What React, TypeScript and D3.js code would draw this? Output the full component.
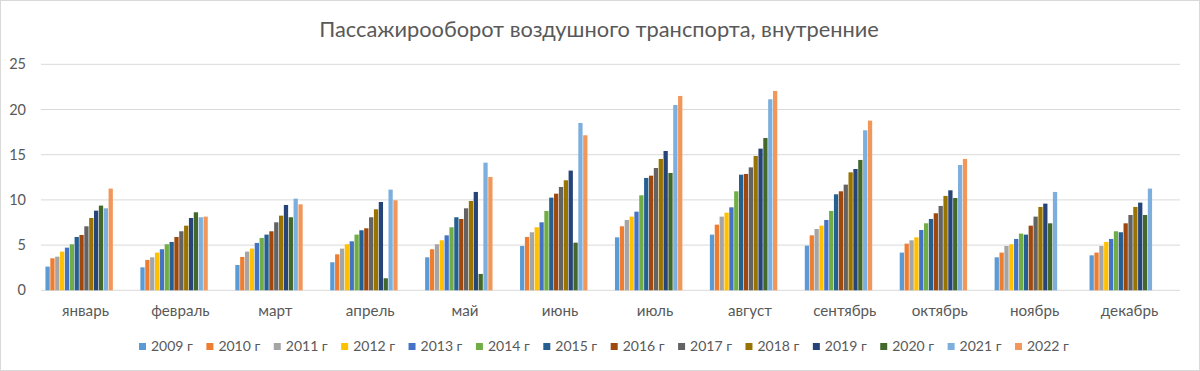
import React from "react";
import * as d3 from "d3";

const months = ["январь", "февраль", "март", "апрель", "май", "июнь", "июль", "август", "сентябрь", "октябрь", "ноябрь", "декабрь"];
const years = ["2009 г", "2010 г", "2011 г", "2012 г", "2013 г", "2014 г", "2015 г", "2016 г", "2017 г", "2018 г", "2019 г", "2020 г", "2021 г", "2022 г"];
const colours = ["#5B9BD5", "#ED7D31", "#A5A5A5", "#FFC000", "#4472C4", "#70AD47", "#255E91", "#9E480E", "#636363", "#997300", "#264478", "#43682B", "#7CAFDD", "#F1975A"];
const yTicks = [0, 5, 10, 15, 20, 25];

// values per month, one entry per year 2009..2022 (null = no data)
const jan = [2.62, 3.54, 3.72, 4.28, 4.72, 5.09, 5.9, 6.12, 7.08, 8.0, 8.81, 9.37, 9.07, 11.25];
const feb = [2.54, 3.36, 3.65, 4.17, 4.54, 5.09, 5.35, 5.9, 6.53, 7.15, 8.0, 8.63, 8.08, 8.15];
const mar = [2.8, 3.69, 4.28, 4.61, 5.24, 5.79, 6.16, 6.53, 7.52, 8.26, 9.44, 8.08, 10.14, 9.51];
const apr = [3.1, 3.98, 4.61, 5.09, 5.42, 6.16, 6.64, 6.86, 8.08, 8.96, 9.77, 1.33, 11.14, 9.96];
const may = [3.65, 4.54, 5.09, 5.53, 6.08, 6.97, 8.08, 7.89, 9.07, 9.88, 10.88, 1.81, 14.12, 12.54];
const jun = [4.9, 5.9, 6.42, 6.97, 7.52, 8.78, 10.25, 10.69, 11.43, 12.17, 13.24, 5.27, 18.51, 17.15];
const jul = [5.86, 7.08, 7.78, 8.15, 8.7, 10.51, 12.43, 12.68, 13.53, 14.53, 15.41, 12.98, 20.5, 21.5];
const aug = [6.16, 7.26, 8.15, 8.59, 9.18, 10.95, 12.79, 12.87, 13.6, 14.86, 15.67, 16.85, 21.13, 22.05];
const sep = [4.94, 6.08, 6.78, 7.15, 7.78, 8.78, 10.62, 10.95, 11.69, 13.05, 13.42, 14.42, 17.7, 18.77];
const oct = [4.17, 5.16, 5.53, 5.86, 6.67, 7.41, 7.89, 8.52, 9.33, 10.44, 11.06, 10.21, 13.86, 14.53];
const nov = [3.65, 4.17, 4.9, 5.09, 5.68, 6.27, 6.16, 7.15, 8.15, 9.22, 9.59, 7.41, 10.88, null];
const dec = [3.87, 4.17, 4.9, 5.35, 5.68, 6.53, 6.42, 7.41, 8.33, 9.22, 9.7, 8.33, 11.25, null];

const values = [jan, feb, mar, apr, may, jun, jul, aug, sep, oct, nov, dec];

const W = 1200, H = 371;
const font = "Lato, 'Open Sans', sans-serif";
const textColour = "#595959";

export default function App() {
  const left = 41, right = 1180, top = 64.3, bottom = 290.3;

  const x0 = d3.scaleBand().domain(months).range([left, right]).padding(0);
  const groupW = x0.bandwidth() * 0.71;
  const groupOffset = x0.bandwidth() * 0.047;
  const x1 = d3.scaleBand().domain(years).range([0, groupW]).paddingInner(0.12);
  const y = d3.scaleLinear().domain([0, 25]).range([bottom, top]);

  const legendX = d3.scaleLinear().domain([0, years.length - 1]).range([139, 1015]);

  return (
    <svg width={W} height={H} style={{ position: "absolute", left: 0, top: 0, background: "#fff" }}>
      <rect x={0.5} y={0.5} width={W - 1} height={H - 1} fill="#fff" stroke="#d9d9d9" />
      <text x={599} y={37} textAnchor="middle" fontFamily={font} fontSize={21.8} fill={textColour}>
        Пассажирооборот воздушного транспорта, внутренние
      </text>

      {yTicks.map(t => (
        <g key={t}>
          <line x1={left} x2={right} y1={y(t)} y2={y(t)} stroke="#d9d9d9" strokeWidth={1} />
          <text x={26} y={y(t) + 5} textAnchor="end" fontFamily={font} fontSize={14.5} fill={textColour}>{t}</text>
        </g>
      ))}

      {months.map((m, i) => {
        const gx = x0(m)! + groupOffset;
        return (
          <g key={m}>
            {values[i].map((v, j) => v == null ? null : (
              <rect key={j} x={gx + x1(years[j])!} y={y(v)} width={x1.bandwidth()} height={y(0) - y(v)} fill={colours[j]} />
            ))}
            <text x={x0(m)! + x0.bandwidth() / 2 - 3} y={316} textAnchor="middle" fontFamily={font} fontSize={15.2} fill={textColour}>{m}</text>
          </g>
        );
      })}

      {years.map((yr, j) => (
        <g key={yr}>
          <rect x={legendX(j)} y={343} width={7} height={7} fill={colours[j]} />
          <text x={legendX(j) + 12} y={351} fontFamily={font} fontSize={14} fill={textColour}>{yr}</text>
        </g>
      ))}
    </svg>
  );
}
